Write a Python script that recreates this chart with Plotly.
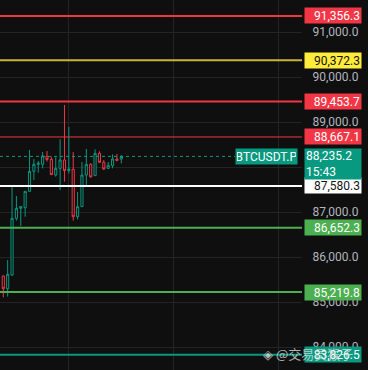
import plotly.graph_objects as go

# ---- data ----
opens  = [85578, 85296, 85600, 86859, 87082, 87096, 87459, 87904, 88059, 88059,
          88237, 88170, 87822, 87970, 88156, 87919, 87948, 86896, 87119, 87822,
          88059, 87808, 88304, 88104, 87970, 88030, 88178, 88178]
highs  = [85590, 85933, 87563, 87356, 87133, 87459, 88378, 88178, 88133, 88333,
          88356, 88230, 88215, 88615, 89378, 88889, 88333, 87445, 88111, 88400,
          88082, 88393, 88348, 88155, 88111, 88281, 88289, 88267]
lows   = [85104, 85119, 85580, 86808, 86689, 86896, 87459, 87711, 87874, 87970,
          88119, 87830, 87785, 87489, 87674, 87859, 86808, 86837, 87119, 87578,
          87763, 87808, 88089, 87933, 87956, 87970, 88126, 88080]
closes = [85296, 85615, 86859, 87082, 87119, 87459, 87904, 88059, 88082, 88245,
          88170, 87830, 87970, 88156, 87919, 87956, 86896, 87119, 87822, 88059,
          87778, 88304, 88104, 87956, 88037, 88178, 88148, 88235]
idx = list(range(1, len(opens) + 1))

level_values = [91356.3, 90372.3, 89453.7, 88667.1, 87580.3, 86652.3, 85219.8, 83826.5]
level_lines  = ["#F23645", "#C9B43A", "#F23645", "#F23645", "#FFFFFF", "#4CAF50", "#4CAF50", "#089981"]
level_boxes  = ["#F23645", "#FFEB3B", "#F23645", "#F23645", "#FFFFFF", "#4CAF50", "#4CAF50", "#089981"]
level_text   = ["#FFFFFF", "#131313", "#FFFFFF", "#FFFFFF", "#131313", "#FFFFFF", "#FFFFFF", "#FFFFFF"]
level_width  = [2, 2, 2, 1, 2, 2, 2, 2]

last_price = 88235.2
countdown = "15:43"
symbol = "BTCUSDT.P"
y_ticks = [84000, 85000, 86000, 87000, 88000, 89000, 90000, 91000]
y_labels = [f"{v:,.1f}" for v in y_ticks]

BG = "#0F0F0F"
UP = "#089981"
DN = "#F23645"
FONT = "Roboto"
FS = 12
PLOT_W = 302.0

fig = go.Figure()
fig.add_trace(go.Candlestick(
    x=idx, open=opens, high=highs, low=lows, close=closes,
    increasing=dict(line=dict(color=UP, width=1), fillcolor=BG),
    decreasing=dict(line=dict(color=DN, width=1), fillcolor=BG),
    whiskerwidth=0, hoverinfo="skip", showlegend=False,
))

shapes = []
annotations = []
for v, lc, bc, tc, w in zip(level_values, level_lines, level_boxes, level_text, level_width):
    shapes.append(dict(type="line", xref="paper", yref="y", x0=0, x1=1, y0=v, y1=v,
                       line=dict(color=lc, width=w), layer="above"))
    annotations.append(dict(xref="paper", yref="y", x=333 / PLOT_W, y=v, xanchor="center",
                            yanchor="middle", text=f"{v:,.1f}", showarrow=False,
                            bgcolor=bc, width=54, height=13, borderpad=1, align="right",
                            font=dict(family=FONT, size=FS, color=tc)))

# current price
shapes.append(dict(type="line", xref="paper", yref="y", x0=0, x1=235 / PLOT_W,
                   y0=last_price, y1=last_price,
                   line=dict(color=UP, width=1, dash="dot"), layer="above"))
annotations.append(dict(xref="paper", yref="y", x=333 / PLOT_W, y=last_price, xanchor="center",
                        yanchor="top", yshift=8, text=f"{last_price:,.1f}<br>{countdown}",
                        showarrow=False, bgcolor=UP, width=54, height=28, borderpad=1,
                        align="left", font=dict(family=FONT, size=FS, color="#FFFFFF")))
annotations.append(dict(xref="paper", yref="y", x=266.5 / PLOT_W, y=last_price, xanchor="center",
                        yanchor="middle", yshift=0, text=symbol, showarrow=False,
                        bgcolor=UP, width=59, height=13, borderpad=1, align="center",
                        font=dict(family=FONT, size=FS, color="#FFFFFF")))
# watermark
annotations.append(dict(xref="paper", yref="paper", x=261 / PLOT_W, y=1 - 353 / 370.0,
                        xanchor="left", yanchor="middle", text="◈ @交易员猴子", showarrow=False,
                        font=dict(family="Noto Sans CJK SC", size=13, color="rgba(230,230,230,0.75)")))

fig.update_layout(
    width=368, height=370, margin=dict(l=0, r=66, t=0, b=0),
    paper_bgcolor=BG, plot_bgcolor=BG,
    shapes=shapes, annotations=annotations,
    xaxis=dict(range=[0.245, 69.35], rangeslider=dict(visible=False), showticklabels=False,
               tickvals=[16, 40, 64], showgrid=True, gridcolor="#242424", gridwidth=1,
               zeroline=False, showline=False, fixedrange=True),
    yaxis=dict(range=[83489, 91711], side="right", tickvals=y_ticks, ticktext=y_labels,
               showgrid=True, gridcolor="#242424", gridwidth=1, zeroline=False,
               ticks="outside", ticklen=7, tickcolor=BG,
               tickfont=dict(family=FONT, size=FS, color="#B2B5BE"), fixedrange=True),
    showlegend=False,
)

fig.write_html("out.html", config={"displayModeBar": False})
